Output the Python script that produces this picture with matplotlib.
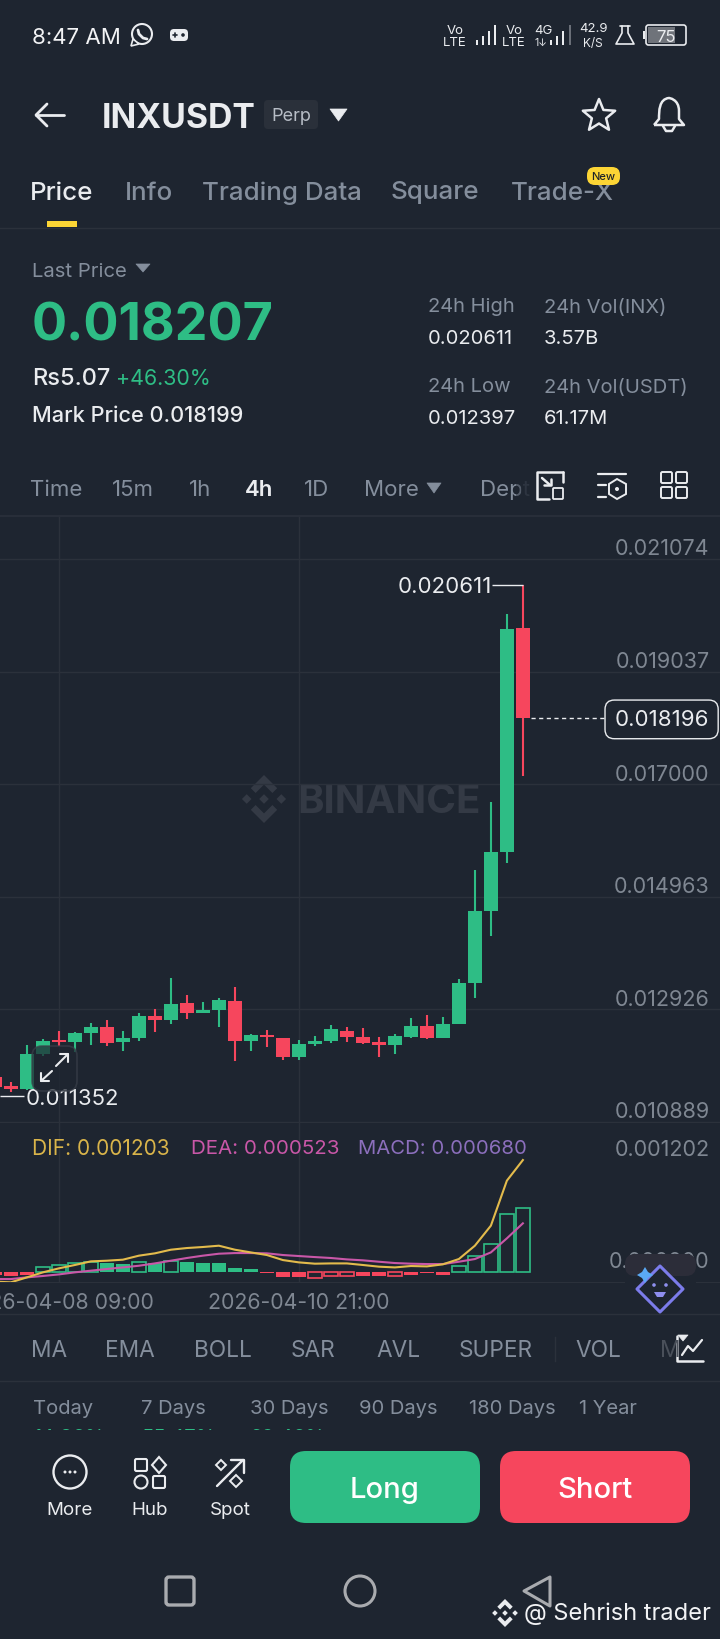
import numpy as np
import matplotlib
matplotlib.use('Agg')
import matplotlib.pyplot as plt
from matplotlib.patches import Circle, FancyBboxPatch, Polygon, Rectangle, PathPatch
from matplotlib.path import Path
from matplotlib.ticker import FormatStrFormatter
from matplotlib.transforms import ScaledTranslation

plt.rcParams['font.family'] = ['Inter', 'DejaVu Sans']

# candles, in millionths of a USDT
opens = [11693, 11530, 11482, 12116, 12376, 12340, 12497, 12600, 12328, 12400, 12805, 12721,
         13029, 12860, 12914, 13077, 12358, 12455, 12400, 12068, 12304, 12358, 12533, 12431,
         12328, 12274, 12431, 12630, 12407, 12660, 13398, 14709, 15773, 19816]
closes = [11524, 11482, 12116, 12358, 12328, 12497, 12606, 12322, 12400, 12799, 12721, 13023,
          12854, 12914, 13083, 12352, 12461, 12431, 12068, 12304, 12358, 12570, 12425, 12316,
          12286, 12437, 12630, 12413, 12654, 13398, 14709, 15773, 19803, 18196]
highs = [11724, 11615, 12280, 12388, 12533, 12509, 12678, 12733, 12527, 12854, 12926, 13494,
         13186, 13059, 13132, 13325, 12479, 12552, 12400, 12364, 12449, 12642, 12600, 12576,
         12419, 12479, 12769, 12824, 12781, 13476, 15440, 16680, 20076, 20611]
lows = [11512, 11422, 11470, 12086, 12268, 12147, 12280, 12268, 12177, 12346, 12521, 12654,
        12751, 12854, 12606, 11984, 12177, 12249, 12014, 12014, 12255, 12316, 12328, 12292,
        12056, 12117, 12413, 12388, 12401, 12660, 13126, 14243, 15579, 17151]

# macd pane, same unit
macd_hist = [-36, -43, -36, 46, 72, 89, 100, 93, 82, 107, 89, 114, 100, 93, 93, 39, 25,
             -14, -54, -57, -64, -43, -43, -47, -47, -47, -32, -14, -32, 57, 172, 297, 619, 683]
macd_hollow = [0, 0, 0, 1, 1, 1, 1, 0, 0, 1, 0, 1, 0, 0, 0, 0, 0,
               0, 0, 0, 1, 1, 1, 0, 0, 1, 0, 0, 0, 1, 1, 1, 1, 1]
dif = [-107, -114, -61, -7, 36, 72, 111, 118, 129, 172, 197, 236, 254, 265, 279, 236, 207,
       179, 125, 100, 86, 89, 89, 72, 54, 46, 61, 57, 79, 136, 279, 494, 977, 1198]
dea = [-79, -79, -61, -46, -29, -7, 11, 29, 46, 64, 89, 118, 147, 172, 193, 200, 200,
       197, 179, 168, 157, 147, 132, 122, 107, 93, 86, 82, 82, 107, 136, 207, 358, 519]

price_ticks = [10889, 12926, 14963, 17000, 19037, 21074]
macd_ticks = [0, 1202]
time_ticks = [4, 19]
time_labels = ['2026-04-08 09:00', '2026-04-10 21:00']
last_price = 18196
high_label = 20611
low_label = 11352

tabs = ['Price', 'Info', 'Trading Data', 'Square', 'Trade-X']
intervals = ['Time', '15m', '1h', '4h', '1D', 'More', 'Dept']
indicators = ['MA', 'EMA', 'BOLL', 'SAR', 'AVL', 'SUPER', 'VOL']
periods = ['Today', '7 Days', '30 Days', '90 Days', '180 Days', '1 Year']
period_values = ['14.86%', '55.47%', '69.46%']

BG = '#1E2530'
LINE = '#2B313B'
GREY = '#848E9C'
AXIS_GREY = '#7F8792'
WHITE = '#EAECEF'
GREEN = '#2EBD85'
RED = '#F6465D'
YELLOW = '#FCD535'

fig = plt.figure(figsize=(7.2, 16.4), dpi=100, facecolor=BG)


def full_axes(z):
    a = fig.add_axes([0, 0, 1, 1], zorder=z)
    a.set_xlim(0, 720)
    a.set_ylim(1640, 0)
    a.axis('off')
    a.patch.set_visible(False)
    return a


def px_axes(top, bottom):
    a = fig.add_axes([0, 1 - bottom / 1640, 1, (bottom - top) / 1640], zorder=1)
    a.patch.set_visible(False)
    for s in a.spines.values():
        s.set_visible(False)
    return a


back = full_axes(0)
top = full_axes(2)


def txt(x, y, s, size, color=WHITE, weight='normal', ha='left', ax=None, **kw):
    # inter sits a little high with va=center
    return (ax or back).text(x, y + 1.5, s, fontsize=size, color=color, fontweight=weight,
                             ha=ha, va='center', **kw)


def stroke(ax, xs, ys, color=WHITE, lw=1.6, **kw):
    ax.plot(xs, ys, color=color, lw=lw, solid_capstyle='round', solid_joinstyle='round', **kw)


def rbox(ax, x, y, w, h, r, fc='none', ec='none', lw=1.4, **kw):
    p = FancyBboxPatch((x + r, y + r), w - 2 * r, h - 2 * r, boxstyle=f'round,pad={r}',
                       fc=fc, ec=ec, lw=lw, **kw)
    ax.add_patch(p)


def tri(ax, x0, x1, y0, y1, color):
    ax.add_patch(Polygon([(x0, y0), (x1, y0), ((x0 + x1) / 2, y1)], fc=color, ec=color, lw=0.5, joinstyle='round'))


def binance_logo(ax, cx, cy, s, color, **kw):
    # centre and side diamonds, top and bottom chevrons
    for dx, dy in [(0, 0), (-s * 0.72, 0), (s * 0.72, 0)]:
        d = s * 0.2
        ax.add_patch(Polygon([(cx + dx - d, cy + dy), (cx + dx, cy + dy - d), (cx + dx + d, cy + dy),
                              (cx + dx, cy + dy + d)], fc=color, ec='none', **kw))
    for sign in (-1, 1):
        ax.add_patch(Polygon([(cx - s * 0.55, cy + sign * s * 0.45), (cx, cy + sign * s),
                              (cx + s * 0.55, cy + sign * s * 0.45), (cx + s * 0.35, cy + sign * s * 0.25),
                              (cx, cy + sign * s * 0.6), (cx - s * 0.35, cy + sign * s * 0.25)],
                             fc=color, ec='none', **kw))


# status bar
txt(32, 37, '8:47 AM', 16, '#F2F3F5')
back.add_patch(Circle((142, 35), 10, fc='none', ec=WHITE, lw=1.5))
back.add_patch(Polygon([(133, 40), (131, 47), (139, 45)], fc=BG, ec=WHITE, lw=1.2))
stroke(back, [138, 139, 143, 147], [31, 35, 39, 40], lw=2)
rbox(back, 170, 30, 18, 12, 4, fc=WHITE)
stroke(back, [173, 177], [36, 36], color=BG, lw=1.2)
stroke(back, [175, 175], [34, 38], color=BG, lw=1.2)
back.add_patch(Circle((183, 36), 1.8, fc=BG))
for x in (455, 514):
    txt(x, 30, 'Vo', 9.5, ha='center', fontstretch='condensed')
    txt(x, 41, 'LTE', 9.5, ha='center')
for x, h in zip((477, 483, 489, 495), (5, 9, 14, 20)):
    back.add_patch(Rectangle((x - 1, 46 - h), 2.4, h, fc=WHITE))
txt(543, 30, '4G', 9.5, ha='center')
txt(541, 41, '1↓', 7.5, ha='center')
for x, h, c in zip((551, 557, 563, 570), (5, 9, 14, 20), (WHITE, WHITE, WHITE, '#6A6F78')):
    back.add_patch(Rectangle((x - 1, 46 - h), 2.4, h, fc=c))
txt(593, 28, '42.9', 9.5, ha='center')
txt(593, 43, 'K/S', 8.5, ha='center')
stroke(back, [622, 622, 616, 634, 628, 628], [27, 34, 45, 45, 34, 27], lw=1.2)
stroke(back, [620, 630], [27, 27], lw=1.2)
rbox(back, 646, 26, 40, 20, 2.5, ec=WHITE, lw=1.2)
back.add_patch(Rectangle((648, 28), 27, 16, fc='#6F737A'))
back.add_patch(Rectangle((643, 32), 1.5, 8, fc=WHITE))
txt(666, 35.5, '75', 12, ha='center')

# header
stroke(back, [36, 64], [116, 116], lw=2)
stroke(back, [47, 36, 47], [105, 116, 127], lw=2)
txt(102, 118, 'INXUSDT', 24.3, '#EAECEF', 'bold')
rbox(back, 264, 101, 54, 29, 4, fc='#2A303A')
txt(291, 115, 'Perp', 13, '#B7BDC6', ha='center')
tri(back, 330, 347, 110, 122, WHITE)
ang = np.deg2rad(np.arange(0, 360, 36) - 90)
rad = np.where(np.arange(10) % 2 == 0, 17, 7.5)
back.add_patch(Polygon(np.c_[599 + rad * np.cos(ang), 117 + rad * np.sin(ang)], fc='none', ec=WHITE, lw=1.8, joinstyle='round'))
bell = Path([(654, 126), (659, 120), (659, 112), (659, 100), (669, 99), (669, 99), (679, 100), (679, 112),
             (679, 120), (684, 126), (684, 126), (654, 126)],
            [Path.MOVETO, Path.LINETO, Path.CURVE4, Path.CURVE4, Path.CURVE4, Path.CURVE4, Path.CURVE4, Path.CURVE4,
             Path.LINETO, Path.LINETO, Path.LINETO, Path.LINETO])
back.add_patch(PathPatch(bell, fc='none', ec=WHITE, lw=1.8, joinstyle='round'))
stroke(back, [663, 666, 672, 675], [127, 132, 132, 127], lw=1.8)

for x, t, c in zip((30, 125, 202, 391, 511), tabs, (WHITE, GREY, GREY, GREY, GREY)):
    txt(x, 191.5, t, 18.7, c, 'medium')
back.add_patch(Rectangle((47, 222), 30, 6, fc=YELLOW))
back.plot([0, 720], [228.5, 228.5], color=LINE, lw=1)
rbox(back, 587, 168, 33, 18, 8, fc=YELLOW, zorder=4)
txt(603.5, 176, 'New', 8, '#1E2329', 'medium', ha='center', zorder=5)

# price block
txt(32, 270.5, 'Last Price', 14.6, GREY)
tri(back, 136, 150, 265, 273, GREY)
txt(32, 325.5, '0.018207', 37.5, GREEN, 'bold')
txt(32, 377.5, 'Rs5.07', 17, WHITE, 'medium')
txt(116, 377.5, '+46.30%', 15.4, GREEN)
txt(32, 414.5, 'Mark Price 0.018199', 15.6, WHITE, 'medium')
for x, y, t, c in [(428, 306, '24h High', GREY), (544, 306, '24h Vol(INX)', GREY),
                   (428, 338, '0.020611', WHITE), (544, 338, '3.57B', WHITE),
                   (428, 386, '24h Low', GREY), (544, 386, '24h Vol(USDT)', GREY),
                   (428, 417, '0.012397', WHITE), (544, 417, '61.17M', WHITE)]:
    txt(x, y, t, 14.5, c)

# interval row
for x, t in zip((30, 112, 189, 245, 304, 364, 480), intervals):
    txt(x, 488.5, t, 16, WHITE if t == '4h' else GREY, 'semibold' if t == '4h' else 'normal')
tri(back, 427, 441, 484, 494, GREY)
back.add_patch(Rectangle((516, 470), 5, 36, fc=BG, alpha=0.45, zorder=4))
back.add_patch(Rectangle((521, 470), 15, 36, fc=BG, alpha=0.85, zorder=4))
stroke(back, [549, 537, 537, 549], [473, 473, 500, 500], lw=1.8)
stroke(back, [563, 563], [473, 483], lw=1.8)
stroke(back, [550, 563], [473, 473], lw=1.8)
stroke(back, [542, 550], [479, 486], lw=1.8)
stroke(back, [544, 551, 551], [486, 486, 480], lw=1.8)
rbox(back, 553, 489, 10, 11, 1, ec=WHITE, lw=1.3)
stroke(back, [598, 626], [475, 475], lw=1.6)
stroke(back, [598, 606], [486, 486], lw=1.6)
stroke(back, [598, 606], [498, 498], lw=1.6)
back.add_patch(Polygon([(617, 480), (626, 485), (626, 495), (617, 500), (609, 495), (609, 485)], fc='none', ec=WHITE, lw=1.4))
back.add_patch(Circle((617, 490), 2, fc=WHITE))
for x in (661, 676):
    for y in (473, 488):
        rbox(back, x, y, 11, 11, 1.5, ec=WHITE, lw=1.4)
back.plot([0, 720], [517, 517], color=LINE, lw=1.2)

# faded chart watermark, sits under the candles
binance_logo(back, 264, 800, 24, '#343A45')
txt(297, 801.5, 'BINANCE', 29, '#343A45', 'bold')

# candle pane
ax = px_axes(518, 1123)
xlim = (0.32, 45.32)
y = np.arange(len(opens))
o, c, h, l = [np.array(v) / 1e6 for v in (opens, closes, highs, lows)]
colors = np.where(c >= o, GREEN, RED)
ax.vlines(y, l, h, colors=colors, lw=1.5, zorder=3)
ax.bar(y, np.maximum(np.abs(c - o), 1.5e-5), bottom=np.minimum(o, c), width=0.88, color=colors, zorder=3)
ax.set_xlim(xlim)
ax.set_ylim(0.0108836, 0.0218341)
ax.set_xticks(time_ticks)
ax.set_yticks(np.array(price_ticks) / 1e6)
ax.yaxis.set_major_formatter(FormatStrFormatter('%.6f'))
ax.grid(True, color=LINE, lw=1, zorder=0)
ax.tick_params(axis='x', length=0, labelbottom=False)
ax.tick_params(axis='y', length=0, left=False, right=False, labelleft=False, labelright=True,
               labelsize=15.5, labelcolor=AXIS_GREY, pad=-7.5)
lift = ScaledTranslation(0, 0.5 / 100, fig.dpi_scale_trans)
for lbl in ax.get_yticklabels():
    lbl.set_ha('right')
    lbl.set_va('bottom')
    lbl.set_transform(lbl.get_transform() + lift)
ax.spines['bottom'].set_visible(True)
ax.spines['bottom'].set_color(LINE)

ax.hlines(high_label / 1e6, 31.1, 33, color=WHITE, lw=1, zorder=4)
ax.annotate(f'{high_label / 1e6:.6f}', (31.05, high_label / 1e6), xytext=(0, -1.2), textcoords='offset points',
            color=WHITE, fontsize=16, ha='right', va='center', zorder=5)
ax.hlines(low_label / 1e6, xlim[0], 1.85, color=WHITE, lw=1, zorder=4)
ax.annotate(f'{low_label / 1e6:.6f}', (1.9, low_label / 1e6), xytext=(0, -1.2), textcoords='offset points',
            color=WHITE, fontsize=16, ha='left', va='center', zorder=5)
ax.hlines(last_price / 1e6, 33.5, 38.1, color=WHITE, lw=1, ls=(0, (3, 2.5)), zorder=4)
ax.annotate(f'{last_price / 1e6:.6f}', (41.67, last_price / 1e6), xytext=(0, -1), textcoords='offset points',
            color=WHITE, fontsize=16, ha='center', va='center', zorder=6,
            bbox=dict(boxstyle='round,pad=0.42', fc=BG, ec=WHITE, lw=1))

# macd pane
mx = px_axes(1123, 1283)
mh = np.array(macd_hist) / 1e6
for i, (v, hollow) in enumerate(zip(mh, macd_hollow)):
    col = GREEN if v >= 0 else RED
    if hollow:
        mx.bar(i, v, width=0.86, facecolor='none', edgecolor=col, lw=1.2, zorder=2)
    else:
        mx.bar(i, v, width=0.9, color=col, zorder=2)
mx.plot(y, np.array(dea) / 1e6, color='#C957A8', lw=1.5, zorder=3)
mx.plot(y, np.array(dif) / 1e6, color='#E3BB4C', lw=1.5, zorder=3)
mx.set_xlim(xlim)
mx.set_ylim(-0.0001105, 0.0016063)
mx.set_xticks(time_ticks)
mx.set_xticklabels(time_labels)
mx.set_yticks(np.array(macd_ticks) / 1e6)
mx.yaxis.set_major_formatter(FormatStrFormatter('%.6f'))
mx.grid(True, axis='x', color=LINE, lw=1, zorder=0)
mx.tick_params(axis='x', length=0, labelsize=15.3, labelcolor=AXIS_GREY, pad=7)
mx.tick_params(axis='y', length=0, left=False, right=False, labelleft=False, labelright=True,
               labelsize=15.5, labelcolor=AXIS_GREY, pad=-7.5)
for lbl in mx.get_yticklabels():
    lbl.set_ha('right')
    lbl.set_va('bottom')
    lbl.set_transform(lbl.get_transform() + lift)
mx.spines['bottom'].set_visible(True)
mx.spines['bottom'].set_color(LINE)
txt(32, 1148, 'DIF: 0.001203', 15, '#D9B44A', ax=top)
txt(191, 1148, 'DEA: 0.000523', 14.8, '#C957A8', ax=top)
txt(358, 1148, 'MACD: 0.000680', 14.6, '#8C6FBD', ax=top)

# expand button floating on the chart
rbox(top, 32, 1047, 45, 45, 10, fc=BG, ec='#3A404A', lw=1.2, alpha=0.7)
stroke(top, [56, 68], [1067, 1055], lw=1.5)
stroke(top, [60, 68, 68], [1055, 1055, 1063], lw=1.5)
stroke(top, [41, 52], [1082, 1072], lw=1.5)
stroke(top, [41, 41, 49], [1074, 1082, 1082], lw=1.5)

# assistant button
rbox(top, 625, 1255, 71, 22, 10, fc='#2C2D39')
top.add_patch(Rectangle((625, 1277), 71, 37, fc=BG))
top.add_patch(Polygon([(660, 1267), (683, 1290), (660, 1313), (637, 1290)], fc=BG, ec='#7C7CEB', lw=2.2, joinstyle='round'))
top.add_patch(Polygon([(645, 1268), (648, 1273), (653, 1276), (648, 1279), (645, 1284), (642, 1279), (637, 1276), (642, 1273)],
                      fc='#5AA9F5', ec='none'))
top.add_patch(Circle((654, 1286), 1.8, fc='#8F8FEF'))
top.add_patch(Circle((666, 1286), 1.8, fc='#8F8FEF'))
top.add_patch(Polygon([(654, 1293), (666, 1293), (663, 1298), (657, 1298)], fc='#8F8FEF', ec='none'))

# lower rows
for x, t in zip((31, 105, 194.5, 291, 376, 459, 575), indicators):
    txt(x, 1350, t, 16.3, GREY)
txt(660, 1350, 'M', 16.3, '#4A505A')
back.plot([555, 555], [1338, 1362], color=LINE, lw=1)
back.plot([0, 720], [1315, 1315], color=LINE, lw=1)
back.plot([0, 720], [1382, 1382], color=LINE, lw=1)
stroke(back, [677, 677, 703], [1337, 1362, 1362], lw=1.8)
stroke(back, [682, 688, 693, 702], [1356, 1347, 1352, 1341], lw=1.6)
tri(back, 678, 688, 1336, 1342, WHITE)

for x, t in zip((33, 141, 250, 359, 469, 579), periods):
    txt(x, 1408, t, 14.5, GREY)
for x, t in zip((33, 141, 250), period_values):
    txt(x, 1437, t, 14.5, GREEN)
back.add_patch(Rectangle((0, 1431), 720, 209, fc=BG, zorder=5))

# action bar
back.add_patch(Circle((70, 1473), 16.5, fc='none', ec=WHITE, lw=1.7, zorder=6))
for dx in (-5, 0, 5):
    back.add_patch(Circle((70 + dx, 1473), 1.5, fc=WHITE, zorder=6))
txt(70, 1509.5, 'More', 13.5, ha='center', zorder=6)
rbox(back, 135, 1460, 12, 12, 1.5, ec=WHITE, lw=1.5, zorder=6)
back.add_patch(Polygon([(159, 1458), (166, 1466), (159, 1474), (152, 1466)], fc='none', ec=WHITE, lw=1.5, zorder=6))
back.add_patch(Circle((141, 1483), 6.5, fc='none', ec=WHITE, lw=1.5, zorder=6))
rbox(back, 153, 1477, 12, 12, 1.5, ec=WHITE, lw=1.5, zorder=6)
txt(150, 1509.5, 'Hub', 13.5, ha='center', zorder=6)
stroke(back, [217, 243], [1487, 1461], lw=1.7, zorder=6)
stroke(back, [231, 244, 244], [1461, 1461, 1474], lw=1.7, zorder=6)
back.add_patch(Polygon([(221, 1461), (226, 1466), (221, 1471), (216, 1466)], fc='none', ec=WHITE, lw=1.4, zorder=6))
back.add_patch(Polygon([(236, 1476), (242, 1482), (236, 1488), (230, 1482)], fc='none', ec=WHITE, lw=1.4, zorder=6))
txt(230, 1509.5, 'Spot', 13.5, ha='center', zorder=6)
rbox(back, 290, 1452, 190, 72, 16, fc=GREEN, zorder=6)
rbox(back, 500, 1452, 190, 72, 16, fc=RED, zorder=6)
txt(385, 1489, 'Long', 21, '#FFFFFF', 'medium', ha='center', zorder=7)
txt(595, 1489, 'Short', 21, '#FFFFFF', 'medium', ha='center', zorder=7)

# android nav and the poster's tag
NAV = '#A9ABAF'
rbox(back, 166, 1578, 28, 28, 3, ec=NAV, lw=2.4, zorder=6)
back.add_patch(Circle((360, 1592), 15, fc='none', ec=NAV, lw=2.2, zorder=6))
back.add_patch(Polygon([(550, 1578), (550, 1607), (524, 1592)], fc='none', ec=NAV, lw=2.2, joinstyle='round', zorder=6))
binance_logo(back, 505, 1614, 14, WHITE, zorder=7)
txt(524, 1612.5, '@ Sehrish trader', 17, '#F2F3F5', zorder=7)

fig.savefig('out.png', dpi=100, facecolor=BG)
